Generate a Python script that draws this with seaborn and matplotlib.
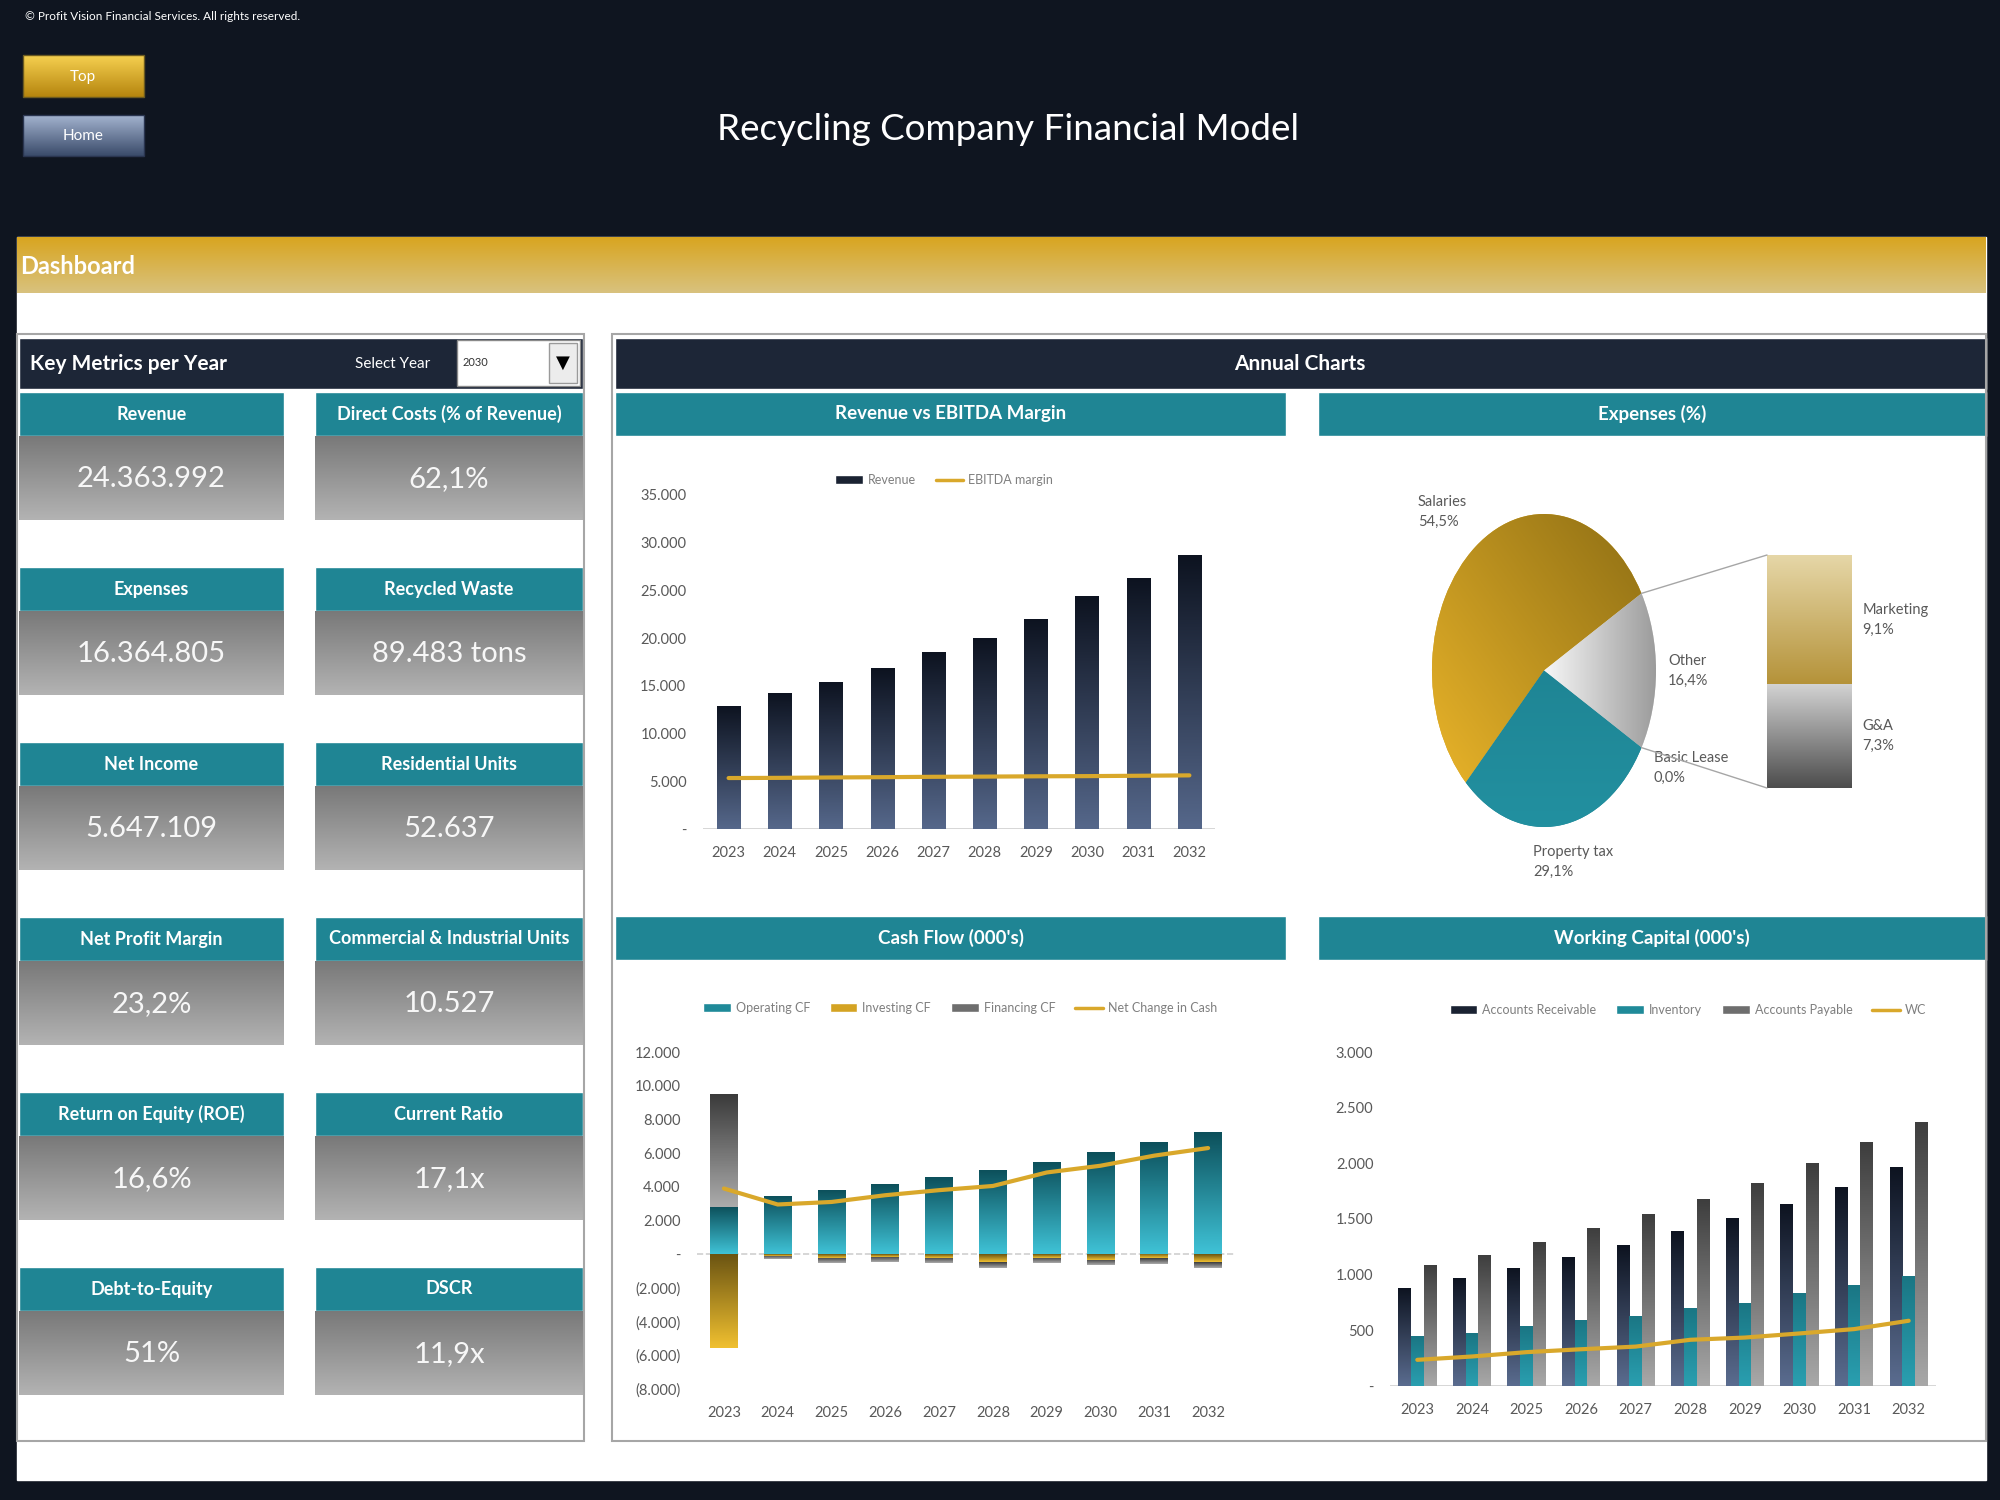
import numpy as np
import pandas as pd
import matplotlib
matplotlib.use("Agg")
import matplotlib.pyplot as plt
import seaborn as sns
from matplotlib.colors import LinearSegmentedColormap
from matplotlib.patches import Rectangle, ConnectionPatch, Patch
from matplotlib.lines import Line2D
from matplotlib.ticker import FuncFormatter, MultipleLocator

# ---------------- data ----------------
years = ["2023", "2024", "2025", "2026", "2027", "2028", "2029", "2030", "2031", "2032"]
selected_year = "2030"

metric_titles = ["Revenue", "Direct Costs (% of Revenue)", "Expenses", "Recycled Waste",
                 "Net Income", "Residential Units", "Net Profit Margin",
                 "Commercial & Industrial Units", "Return on Equity (ROE)", "Current Ratio",
                 "Debt-to-Equity", "DSCR"]
metric_values = ["24.363.992", "62,1%", "16.364.805", "89.483 tons", "5.647.109", "52.637",
                 "23,2%", "10.527", "16,6%", "17,1x", "51%", "11,9x"]

revenue = [12900, 14300, 15450, 16850, 18550, 20050, 22050, 24364, 26350, 28750]
ebitda_margin_line = [5340, 5360, 5400, 5430, 5470, 5490, 5520, 5540, 5580, 5620]

expense_labels = ["Other", "Salaries", "Property tax", "Basic Lease"]
expense_share = [16.4, 54.5, 29.1, 0.0]
other_labels = ["G&A", "Marketing"]
other_share = [7.3, 9.1]

operating_cf = [2800, 3460, 3800, 4160, 4600, 5000, 5460, 6040, 6660, 7260]
investing_cf = [-5550, -100, -200, -150, -200, -450, -200, -350, -250, -450]
financing_cf = [6700, -200, -300, -300, -300, -350, -300, -300, -350, -350]
net_change_cash = [3900, 2950, 3100, 3500, 3800, 4050, 4850, 5250, 5850, 6300]

receivables = [881, 971, 1061, 1157, 1265, 1392, 1512, 1638, 1788, 1969]
inventory = [445, 475, 535, 595, 631, 700, 745, 836, 911, 992]
payables = [1091, 1181, 1292, 1422, 1542, 1677, 1822, 2002, 2188, 2375]
working_capital = [235, 265, 304, 330, 354, 415, 435, 472, 511, 586]

# ---------------- style ----------------
W, H = 2000, 1500
FRAME = "#0f1520"
NAVY = "#1d2637"
TEAL = "#1f8594"
GOLD = "#d9a82b"
GREY_TXT = "#595959"

sns.set_theme(style="white")
plt.rcParams["font.family"] = ["Lato", "DejaVu Sans"]


def fig_rect(x0, y0, x1, y1):
    # pixel box (y down) -> figure fraction
    return [x0 / W, 1 - y1 / H, (x1 - x0) / W, (y1 - y0) / H]


def gradient(ax, x0, x1, bottom, top, c_top, c_bottom, z=1, clip=None, mode="v"):
    cm = LinearSegmentedColormap.from_list("g", [c_top, c_bottom])
    t = np.linspace(0, 1, 100)
    if mode == "d":
        arr = (t[:, None] + t[::-1][None, :]) / 2
    elif mode == "h":
        arr = np.repeat(t[None, :], 2, axis=0)
    else:
        arr = np.repeat(t[:, None], 2, axis=1)
    im = ax.imshow(arr, cmap=cm, vmin=0, vmax=1, extent=(x0, x1, bottom, top),
                   origin="upper", aspect="auto", interpolation="bilinear", zorder=z)
    if clip is not None:
        im.set_clip_path(clip)
    return im


def shade_bars(ax, patches, c_top, c_bottom):
    for p in patches:
        h = p.get_height()
        if h == 0:
            continue
        lo, hi = min(p.get_y(), p.get_y() + h), max(p.get_y(), p.get_y() + h)
        gradient(ax, p.get_x(), p.get_x() + p.get_width(), lo, hi, c_top, c_bottom,
                 z=p.get_zorder() + 0.1, clip=p)


def fmt_thousands(v, pos):
    if abs(v) < 1e-9:
        return "-"
    s = f"{abs(v):,.0f}".replace(",", ".")
    return f"({s})" if v < 0 else s


def pct(v):
    return f"{v:.1f}%".replace(".", ",")


def style_chart(ax, lo, hi, step, dashed_zero=False):
    ax.set_xlim(-0.5, len(years) - 0.5)
    ax.set_ylim(lo, hi)
    ax.yaxis.set_major_locator(MultipleLocator(step))
    ax.yaxis.set_major_formatter(FuncFormatter(fmt_thousands))
    ax.set_xticks(np.arange(len(years)), years)
    ax.tick_params(axis="both", length=0, labelsize=10.5, labelcolor=GREY_TXT)
    ax.tick_params(axis="y", pad=12)
    ax.tick_params(axis="x", pad=12)
    for s in ax.spines.values():
        s.set_visible(False)
    ax.axhline(0, color="#d0d0d0", lw=1.2, ls="--" if dashed_zero else "-", zorder=1)
    ax.set_xlabel("")
    ax.set_ylabel("")
    ax.set_facecolor("none")
    ax.grid(False)


fig = plt.figure(figsize=(20, 15), dpi=100)
fig.patch.set_facecolor(FRAME)

# background canvas in pixel coordinates (y down)
bg = fig.add_axes([0, 0, 1, 1])
bg.set_xlim(0, W)
bg.set_ylim(H, 0)


def box(x0, y0, x1, y1, color, z=2, **kw):
    bg.add_patch(Rectangle((x0, y0), x1 - x0, y1 - y0, facecolor=color, zorder=z, **kw))


# header area
bg.text(25, 17, "\u00a9 Profit Vision Financial Services. All rights reserved.",
        color="white", fontsize=8.5, va="center", zorder=5)
gradient(bg, 23, 144, 97, 55, "#f6d050", "#b5850e", z=2)
box(23, 55, 144, 97, "none", edgecolor="#6b5a20", lw=1, z=3)
bg.text(83, 77, "Top", color="white", fontsize=11, ha="center", va="center", zorder=5)
gradient(bg, 23, 144, 156, 115, "#a3b3cf", "#3a4b6a", z=2)
box(23, 115, 144, 156, "none", edgecolor="#2a3550", lw=1, z=3)
bg.text(83, 136, "Home", color="white", fontsize=11, ha="center", va="center", zorder=5)
bg.text(1008, 130, "Recycling Company Financial Model", color="white", fontsize=26.5,
        ha="center", va="center", zorder=5)

# white sheet + dashboard band
box(17, 237, 1986, 1480, "white", z=1)
gradient(bg, 17, 1986, 293, 237, "#d9a520", "#d8c27e", z=2)
bg.text(20, 267, "Dashboard", color="white", fontsize=17, fontweight="bold",
        va="center", zorder=5)

# ---------------- key metrics panel ----------------
box(17, 334, 584, 1441, "none", edgecolor="#a6a6a6", lw=1.5, z=3)
box(19, 338, 583, 389, NAVY)
bg.text(30, 364, "Key Metrics per Year", color="white", fontsize=15, fontweight="bold",
        va="center", zorder=5)
bg.text(393, 364, "Select Year", color="white", fontsize=11, ha="center", va="center", zorder=5)
box(457, 340, 580, 386, "white", z=3, edgecolor="#8a8a8a", lw=1)
bg.text(463, 363, selected_year, color="#333333", fontsize=8, va="center", zorder=5)
box(549, 343, 577, 383, "#ececec", z=4, edgecolor="#9a9a9a", lw=1)
bg.text(563, 363, "\u25bc", color="black", fontsize=13, ha="center", va="center", zorder=5,
        family="DejaVu Sans")

col_x = [(19, 284), (315, 583)]
for i, (title, value) in enumerate(zip(metric_titles, metric_values)):
    r, c = divmod(i, 2)
    x0, x1 = col_x[c]
    y0 = 392 + r * 175
    box(x0, y0, x1, y0 + 44, TEAL)
    bg.text((x0 + x1) / 2, y0 + 22, title, color="white", fontsize=13, fontweight="bold",
            ha="center", va="center", zorder=5)
    gradient(bg, x0, x1, y0 + 128, y0 + 44, "#797979", "#b3b3b3", z=2)
    bg.text((x0 + x1) / 2, y0 + 87, value, color="#f7f7f7", fontsize=21,
            ha="center", va="center", zorder=5)

# ---------------- annual charts panel ----------------
box(612, 334, 1986, 1441, "none", edgecolor="#a6a6a6", lw=1.5, z=3)
box(615, 338, 1986, 389, NAVY)
bg.text(1300, 364, "Annual Charts", color="white", fontsize=15, fontweight="bold",
        ha="center", va="center", zorder=5)
for (x0, y0, x1, y1), label in [((615, 392, 1286, 436), "Revenue vs EBITDA Margin"),
                                ((1318, 392, 1986, 436), "Expenses (%)"),
                                ((615, 916, 1286, 960), "Cash Flow (000's)"),
                                ((1318, 916, 1986, 960), "Working Capital (000's)")]:
    box(x0, y0, x1, y1, TEAL)
    bg.text((x0 + x1) / 2, (y0 + y1) / 2, label, color="white", fontsize=13.5,
            fontweight="bold", ha="center", va="center", zorder=5)

x = np.arange(len(years))
legend_kw = dict(loc="center", bbox_transform=fig.transFigure, frameon=False, fontsize=9,
                 labelcolor="#7f7f7f", handlelength=2.2, handleheight=0.7,
                 handletextpad=0.4, columnspacing=1.6)

# Revenue vs EBITDA margin
ax_rev = fig.add_axes(fig_rect(703, 495, 1215, 829))
sns.barplot(x=x, y=revenue, native_scale=True, width=0.45, color="#1a2232",
            saturation=1, ax=ax_rev)
shade_bars(ax_rev, ax_rev.containers[0].patches, "#0d1320", "#55678a")
sns.lineplot(x=x, y=ebitda_margin_line, color=GOLD, linewidth=3, ax=ax_rev, zorder=6)
style_chart(ax_rev, 0, 35000, 5000)
ax_rev.legend(handles=[Patch(facecolor="#1a2232", label="Revenue"),
                       Line2D([], [], color=GOLD, lw=2.5, label="EBITDA margin")],
              bbox_to_anchor=(944 / W, 1 - 480 / H), ncol=2, **legend_kw)

# Expenses pie of pie
ax_pie = fig.add_axes(fig_rect(1432, 514, 1656, 827))
start = -expense_share[0] / sum(expense_share) * 180
wedges, _ = ax_pie.pie(expense_share, startangle=start,
                       colors=["#cfcfcf", "#d4a323", TEAL, "#8a8a8a"],
                       wedgeprops=dict(linewidth=0))
ax_pie.set_aspect("auto")
ax_pie.set_xlim(-1, 1)
ax_pie.set_ylim(-1, 1)
gradient(ax_pie, -1, 1, -1, 1, "#8c6d14", "#f0b92b", z=3, clip=wedges[1], mode="d")
gradient(ax_pie, 0, 1, -0.6, 0.6, "#f7f7f7", "#9c9c9c", z=3, clip=wedges[0], mode="h")
gradient(ax_pie, -1, 1, -1, 1, "#1b7a89", "#2290a0", z=3, clip=wedges[2])

ax_bop = fig.add_axes(fig_rect(1767, 555, 1852, 788))
b_ga = ax_bop.bar(0, other_share[0], width=1, color="#9a9a9a", linewidth=0)
b_mk = ax_bop.bar(0, other_share[1], bottom=other_share[0], width=1, color="#cdb46a",
                  linewidth=0)
ax_bop.set_xlim(-0.5, 0.5)
ax_bop.set_ylim(0, sum(other_share))
shade_bars(ax_bop, b_ga.patches, "#d2d2d2", "#4d4d4d")
shade_bars(ax_bop, b_mk.patches, "#e6d7a8", "#b5933a")
ax_bop.axis("off")
bottoms = [0, other_share[0]]
for lab, v, b in zip(other_labels, other_share, bottoms):
    ax_bop.text(0.62, b + v / 2, f"{lab}\n{pct(v)}", color=GREY_TXT, fontsize=10.5,
                ha="left", va="center", linespacing=1.5, clip_on=False)

t1, t2 = np.deg2rad(wedges[0].theta1), np.deg2rad(wedges[0].theta2)
for ang, yb in [(t2, sum(other_share)), (t1, 0)]:
    con = ConnectionPatch(xyA=(np.cos(ang), np.sin(ang)), coordsA=ax_pie.transData,
                          xyB=(-0.5, yb), coordsB=ax_bop.transData,
                          color="#a6a6a6", lw=1)
    fig.add_artist(con)

pie_label_pos = {"Other": (1668, 671), "Salaries": (1418, 512),
                 "Basic Lease": (1654, 768), "Property tax": (1533, 862)}
for lab, v in zip(expense_labels, expense_share):
    px, py = pie_label_pos[lab]
    bg.text(px, py, f"{lab}\n{pct(v)}", color=GREY_TXT, fontsize=10.5, ha="left",
            va="center", linespacing=1.5, zorder=6)

# Cash flow
ax_cf = fig.add_axes(fig_rect(697, 1052, 1235, 1389))
pos_base = np.zeros(len(years))
neg_base = np.zeros(len(years))
for vals, c_top, c_bot in [(operating_cf, "#0c4f5a", "#3fc2d6"),
                           (investing_cf, "#6b5412", "#f0c030"),
                           (financing_cf, "#3b3b3b", "#ababab")]:
    v = np.array(vals, dtype=float)
    bottom = np.where(v >= 0, pos_base, neg_base)
    bars = ax_cf.bar(x, v, bottom=bottom, width=0.52, color=c_bot, linewidth=0, zorder=2)
    shade_bars(ax_cf, bars.patches, c_top, c_bot)
    pos_base += np.where(v >= 0, v, 0)
    neg_base += np.where(v < 0, v, 0)
sns.lineplot(x=x, y=net_change_cash, color=GOLD, linewidth=3, ax=ax_cf, zorder=6)
style_chart(ax_cf, -8000, 12000, 2000, dashed_zero=True)
ax_cf.legend(handles=[Patch(facecolor="#1f8a99", label="Operating CF"),
                      Patch(facecolor="#d4a323", label="Investing CF"),
                      Patch(facecolor="#6e6e6e", label="Financing CF"),
                      Line2D([], [], color=GOLD, lw=2.5, label="Net Change in Cash")],
             bbox_to_anchor=(960 / W, 1 - 1008 / H), ncol=4, **legend_kw)

# Working capital
ax_wc = fig.add_axes(fig_rect(1390, 1052, 1936, 1386))
wc_series = ["Accounts Receivable", "Inventory", "Accounts Payable"]
wc_df = pd.DataFrame({
    "pos": np.tile(x, 3),
    "value": receivables + inventory + payables,
    "series": np.repeat(wc_series, len(years)),
})
sns.barplot(data=wc_df, x="pos", y="value", hue="series", hue_order=wc_series,
            native_scale=True, width=0.7, palette=["#1a2232", "#1f8a99", "#7a7a7a"],
            saturation=1, legend=False, ax=ax_wc)
for cont, (c_top, c_bot) in zip(ax_wc.containers, [("#0d1320", "#5a6c8f"),
                                                    ("#1a7684", "#2a9fb0"),
                                                    ("#3e3e3e", "#a8a8a8")]):
    shade_bars(ax_wc, cont.patches, c_top, c_bot)
sns.lineplot(x=x, y=working_capital, color=GOLD, linewidth=3, ax=ax_wc, zorder=6)
style_chart(ax_wc, 0, 3000, 500)
ax_wc.legend(handles=[Patch(facecolor="#1a2232", label="Accounts Receivable"),
                      Patch(facecolor="#1f8a99", label="Inventory"),
                      Patch(facecolor="#6e6e6e", label="Accounts Payable"),
                      Line2D([], [], color=GOLD, lw=2.5, label="WC")],
             bbox_to_anchor=(1688 / W, 1 - 1010 / H), ncol=4, **legend_kw)

bg.set_xlim(0, W)
bg.set_ylim(H, 0)
bg.axis("off")

fig.savefig("out.png", dpi=100, facecolor=FRAME)
plt.close(fig)
